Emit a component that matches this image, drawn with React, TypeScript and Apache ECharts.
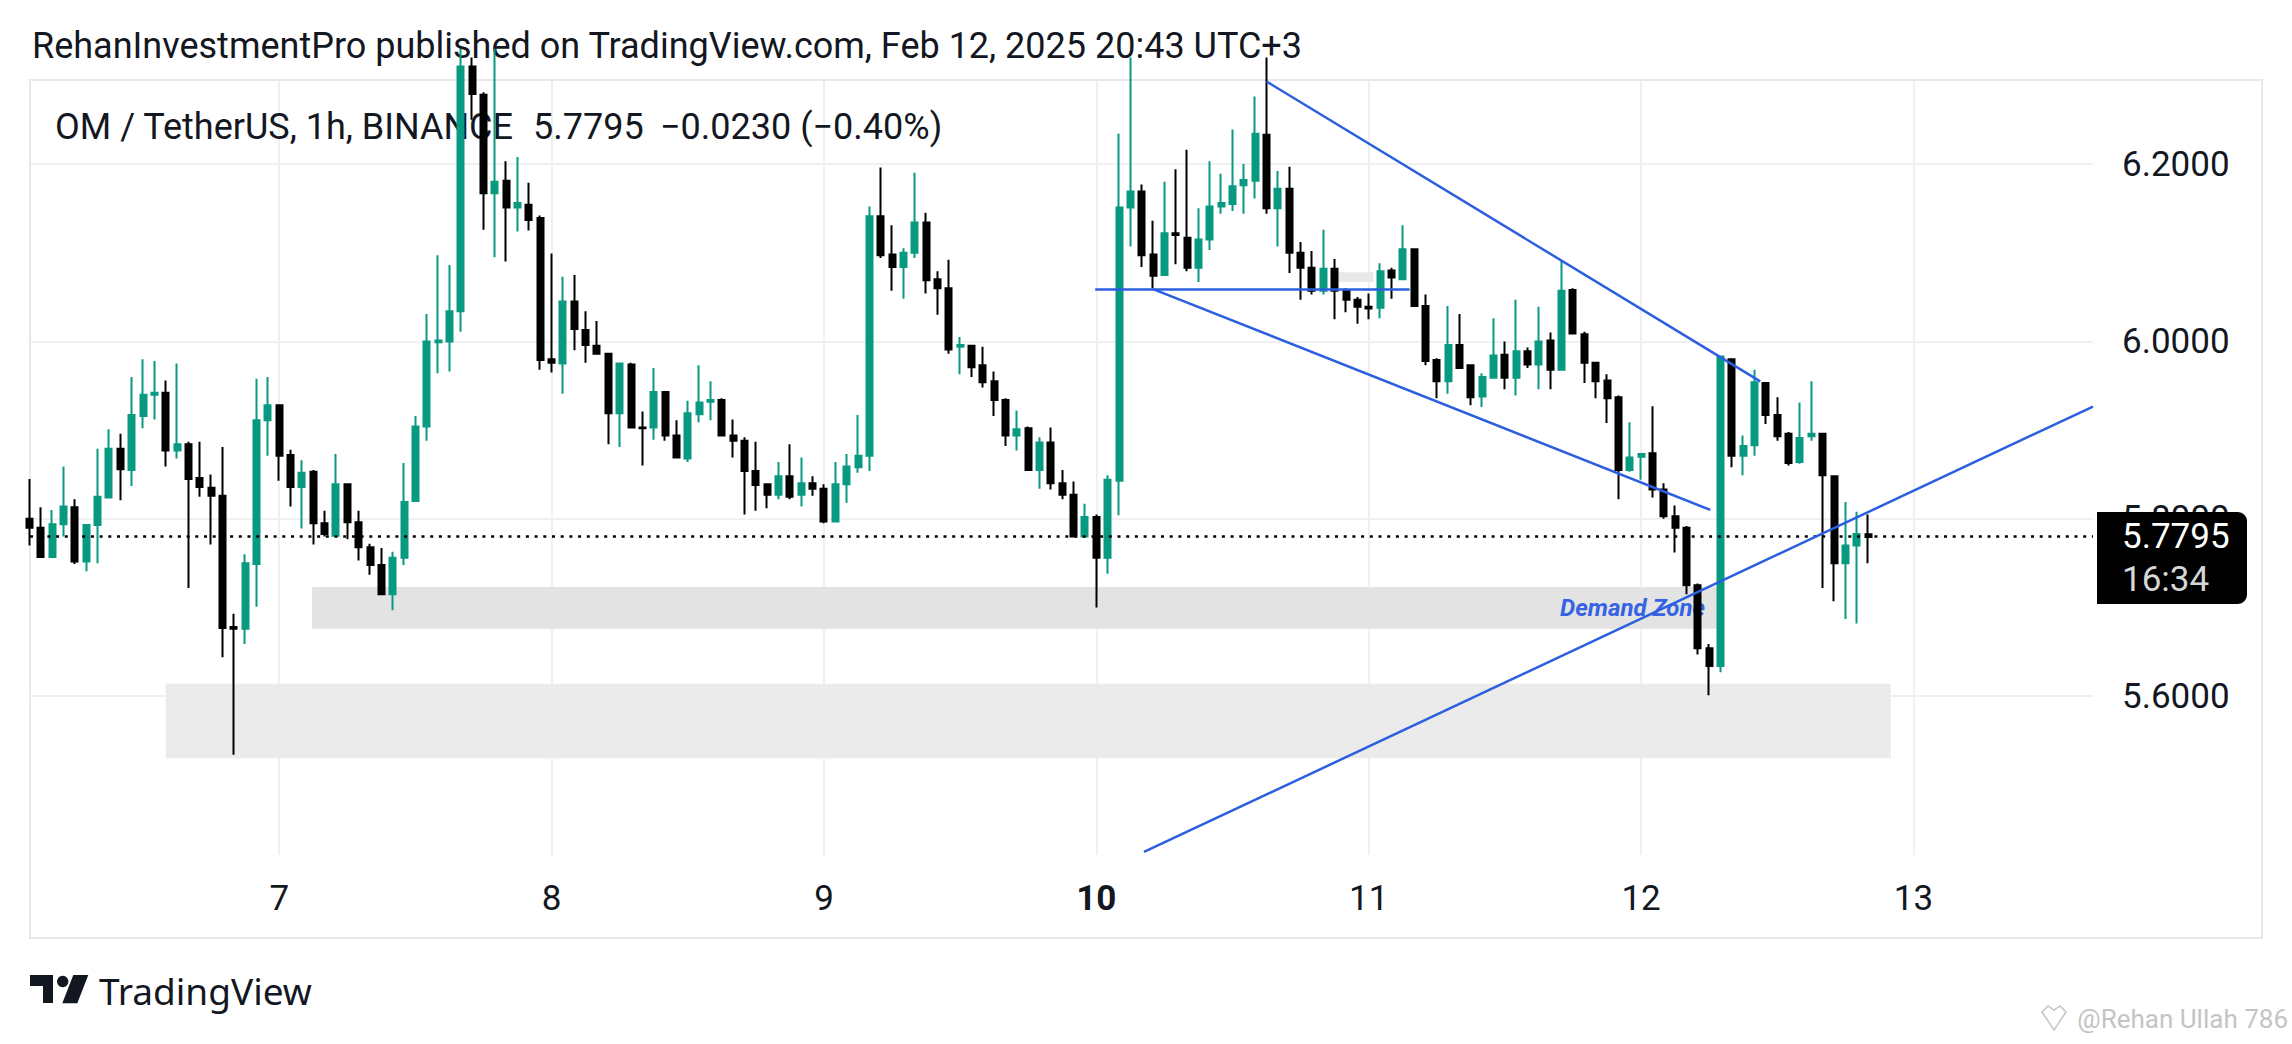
import { useEffect, useRef } from "react";
import * as echarts from "echarts";

// Hour index relative to Feb 7 00:00 (UTC+3). First candle = Feb 6 02:00.
const FIRST_HOUR = -22;

const opens = [
  5.800, 5.790, 5.757, 5.794, 5.813, 5.752, 5.793, 5.824, 5.879, 5.855, 5.916, 5.940, 5.942, 5.877, 5.884, 5.846, 5.835, 5.826, 5.678, 5.676, 5.749, 5.911,
  5.928, 5.872, 5.836, 5.853, 5.795, 5.781, 5.839, 5.796, 5.768, 5.748, 5.715, 5.756, 5.820, 5.904, 5.999, 6.000, 6.034, 6.310, 6.278, 6.167, 6.181, 6.151, 6.154, 6.139,
  5.980, 5.975, 6.045, 6.013, 5.995, 5.986, 5.919, 5.974, 5.903, 5.903, 5.943, 5.894, 5.868, 5.918, 5.932, 5.934, 5.894, 5.888, 5.854, 5.839, 5.827, 5.848, 5.827, 5.840,
  5.834, 5.797, 5.839, 5.858, 5.871, 6.141, 6.098, 6.084, 6.100, 6.134, 6.070, 6.060, 5.994, 5.995, 5.973, 5.955, 5.934, 5.894, 5.902, 5.855, 5.886, 5.840, 5.827, 5.780,
  5.802, 5.756, 5.843, 6.151, 6.169, 6.098, 6.075, 6.122, 6.117, 6.083, 6.115, 6.152, 6.155, 6.176, 6.181, 6.233, 6.150, 6.172, 6.100, 6.083, 6.057, 6.082, 6.057, 6.047,
  6.039, 6.038, 6.080, 6.070, 6.104, 6.040, 5.979, 5.955, 5.996, 5.973, 5.938, 5.959, 5.985, 5.959, 5.989, 5.974, 6.001, 5.968, 6.058, 6.008, 5.976, 5.956, 5.937, 5.855,
  5.870, 5.874, 5.833, 5.803, 5.790, 5.725, 5.654, 5.634, 5.980, 5.871, 5.883, 5.953, 5.917, 5.896, 5.864, 5.893, 5.896, 5.848, 5.750, 5.770, 5.7825,
];
const highs = [
  5.845, 5.813, 5.810, 5.859, 5.822, 5.794, 5.879, 5.901, 5.896, 5.960, 5.980, 5.978, 5.956, 5.975, 5.887, 5.887, 5.850, 5.881, 5.693, 5.760, 5.958, 5.960,
  5.929, 5.878, 5.866, 5.855, 5.809, 5.873, 5.840, 5.809, 5.772, 5.767, 5.763, 5.863, 5.916, 6.031, 6.097, 6.086, 6.330, 6.320, 6.281, 6.330, 6.203, 6.208, 6.179, 6.142,
  6.099, 6.073, 6.075, 6.034, 6.023, 5.987, 5.976, 5.976, 5.921, 5.970, 5.944, 5.911, 5.933, 5.973, 5.955, 5.936, 5.912, 5.892, 5.887, 5.840, 5.864, 5.884, 5.869, 5.848,
  5.839, 5.864, 5.873, 5.917, 6.152, 6.196, 6.131, 6.105, 6.190, 6.145, 6.079, 6.092, 6.005, 5.996, 5.994, 5.966, 5.936, 5.922, 5.904, 5.892, 5.903, 5.855, 5.842, 5.817,
  5.805, 5.849, 6.234, 6.320, 6.177, 6.136, 6.180, 6.194, 6.216, 6.150, 6.203, 6.189, 6.239, 6.200, 6.276, 6.320, 6.192, 6.197, 6.112, 6.102, 6.126, 6.093, 6.060, 6.050,
  6.054, 6.088, 6.083, 6.131, 6.105, 6.053, 5.981, 6.040, 6.031, 5.974, 5.964, 6.026, 6.000, 6.047, 5.993, 6.039, 6.010, 6.092, 6.060, 6.011, 5.977, 5.963, 5.939, 5.909,
  5.874, 5.927, 5.840, 5.815, 5.792, 5.727, 5.659, 5.984, 5.981, 5.894, 5.968, 5.954, 5.937, 5.898, 5.931, 5.955, 5.897, 5.849, 5.819, 5.808, 5.805,
];
const lows = [
  5.770, 5.756, 5.756, 5.780, 5.749, 5.741, 5.750, 5.823, 5.821, 5.837, 5.902, 5.912, 5.859, 5.868, 5.722, 5.825, 5.771, 5.644, 5.534, 5.659, 5.701, 5.871,
  5.843, 5.814, 5.789, 5.771, 5.780, 5.781, 5.777, 5.753, 5.737, 5.714, 5.697, 5.748, 5.819, 5.888, 5.964, 5.966, 6.011, 6.250, 6.126, 6.095, 6.090, 6.124, 6.125, 5.968,
  5.965, 5.941, 5.990, 5.976, 5.985, 5.884, 5.881, 5.902, 5.860, 5.889, 5.888, 5.868, 5.864, 5.909, 5.911, 5.893, 5.869, 5.805, 5.809, 5.812, 5.822, 5.822, 5.814, 5.826,
  5.795, 5.796, 5.818, 5.852, 5.854, 6.094, 6.057, 6.048, 6.094, 6.054, 6.030, 5.986, 5.963, 5.960, 5.948, 5.916, 5.882, 5.877, 5.854, 5.834, 5.833, 5.822, 5.779, 5.779,
  5.700, 5.738, 5.804, 6.107, 6.084, 6.060, 6.074, 6.087, 6.079, 6.067, 6.103, 6.144, 6.147, 6.144, 6.161, 6.144, 6.107, 6.077, 6.047, 6.053, 6.053, 6.025, 6.033, 6.020,
  6.025, 6.026, 6.048, 6.069, 6.039, 5.973, 5.936, 5.941, 5.969, 5.928, 5.926, 5.958, 5.946, 5.939, 5.970, 5.946, 5.946, 5.967, 6.008, 5.953, 5.936, 5.908, 5.822, 5.853,
  5.844, 5.824, 5.800, 5.762, 5.715, 5.647, 5.601, 5.627, 5.858, 5.849, 5.871, 5.907, 5.888, 5.860, 5.862, 5.888, 5.722, 5.707, 5.687, 5.682, 5.750,
];
const closes = [
  5.790, 5.757, 5.794, 5.814, 5.752, 5.793, 5.825, 5.879, 5.856, 5.917, 5.940, 5.942, 5.877, 5.884, 5.845, 5.836, 5.826, 5.677, 5.676, 5.750, 5.911, 5.928,
  5.871, 5.836, 5.852, 5.795, 5.783, 5.839, 5.796, 5.768, 5.748, 5.715, 5.756, 5.819, 5.904, 6.000, 6.001, 6.034, 6.310, 6.279, 6.167, 6.180, 6.151, 6.156, 6.137, 5.979,
  5.976, 6.045, 6.014, 5.996, 5.986, 5.919, 5.975, 5.903, 5.902, 5.943, 5.894, 5.869, 5.919, 5.931, 5.934, 5.894, 5.888, 5.854, 5.838, 5.827, 5.848, 5.825, 5.840, 5.834,
  5.797, 5.839, 5.859, 5.871, 6.141, 6.097, 6.084, 6.100, 6.134, 6.069, 6.060, 5.991, 5.996, 5.971, 5.954, 5.934, 5.894, 5.901, 5.855, 5.886, 5.840, 5.827, 5.780, 5.802,
  5.756, 5.844, 6.151, 6.169, 6.097, 6.074, 6.122, 6.120, 6.083, 6.115, 6.152, 6.156, 6.175, 6.182, 6.234, 6.150, 6.172, 6.100, 6.083, 6.057, 6.082, 6.057, 6.047, 6.039,
  6.037, 6.079, 6.072, 6.104, 6.040, 5.978, 5.955, 5.996, 5.970, 5.937, 5.960, 5.984, 5.959, 5.989, 5.974, 6.000, 5.968, 6.057, 6.009, 5.976, 5.955, 5.936, 5.855, 5.869,
  5.873, 5.833, 5.803, 5.790, 5.725, 5.654, 5.634, 5.983, 5.871, 5.882, 5.954, 5.917, 5.893, 5.863, 5.891, 5.896, 5.849, 5.750, 5.770, 5.783, 5.7795,
];

const dayTicks = [0, 24, 48, 72, 96, 120, 144];
const dayLabels = ["7", "8", "9", "10", "11", "12", "13"];
const boldDay = "10";
const priceTicks = [5.6, 5.8, 6.0, 6.2];
const lastPrice = 5.7795;
const countdown = "16:34";

// Drawings (in hour index / price coordinates)
const zones = [
  { from: [2.9, 5.723], to: [126.7, 5.676], fill: "#e3e3e3", label: "Demand Zone" },
  { from: [-10.0, 5.614], to: [142.0, 5.530], fill: "#ebebeb", label: "" },
  { from: [93.3, 6.078], to: [96.4, 6.067], fill: "#e8e8e8", label: "" },
];
const trendLines = [
  { from: [71.9, 6.059], to: [99.6, 6.059] },
  { from: [77.0, 6.059], to: [126.1, 5.81] },
  { from: [87.0, 6.293], to: [130.5, 5.955] },
  { from: [76.2, 5.4244], to: [159.82, 5.9266] },
];

const X_MIN = -21.96;
const X_MAX = 159.82;
const Y_MIN = 5.421;
const Y_MAX = 6.2947;

const FONT = "Roboto";
const TEXT = "#131722";
const UP = "#089981";
const DOWN = "#000000";
const BLUE = "#2c5fe0";

export default function App() {
  const ref = useRef<HTMLDivElement>(null);

  useEffect(() => {
    document.body.style.margin = "0";
    document.body.style.overflow = "hidden";
    const chart = echarts.init(ref.current!, undefined, { renderer: "svg" });

    const candleData = opens.map((o, i) => [FIRST_HOUR + i, o, closes[i], lows[i], highs[i]]);

    const option: any = {
      animation: false,
      backgroundColor: "#ffffff",
      textStyle: { fontFamily: FONT },
      grid: { left: 30, right: 199, top: 80, bottom: 189, containLabel: false },
      xAxis: {
        type: "value",
        min: X_MIN,
        max: X_MAX,
        axisLine: { show: false },
        axisTick: { show: false, customValues: dayTicks },
        splitLine: { show: true, lineStyle: { color: "#f0f0f0", width: 2 } },
        axisLabel: {
          customValues: dayTicks,
          margin: 26,
          fontSize: 35,
          fontFamily: FONT,
          color: TEXT,
          formatter: (v: number) => {
            const idx = dayTicks.indexOf(Math.round(v));
            const lab = idx >= 0 ? dayLabels[idx] : "";
            return lab === boldDay ? `{b|${lab}}` : lab;
          },
          rich: { b: { fontSize: 35, fontWeight: "bold", fontFamily: FONT, color: TEXT } },
        },
      },
      yAxis: {
        type: "value",
        position: "right",
        min: Y_MIN,
        max: Y_MAX,
        scale: true,
        axisLine: { show: false },
        axisTick: { show: false, customValues: priceTicks },
        splitLine: { show: true, lineStyle: { color: "#f0f0f0", width: 2 } },
        axisLabel: {
          customValues: priceTicks,
          margin: 29,
          fontSize: 35,
          fontFamily: FONT,
          color: TEXT,
          formatter: (v: number) => v.toFixed(4),
        },
      },
      series: [
        {
          type: "candlestick",
          data: candleData,
          dimensions: ["x", "open", "close", "lowest", "highest"],
          encode: { x: 0, y: [1, 2, 3, 4] },
          barWidth: 6.5,
          clip: true,
          z: 2,
          itemStyle: {
            color: UP,
            color0: DOWN,
            borderColor: UP,
            borderColor0: DOWN,
            borderWidth: 2,
          },
          markArea: {
            silent: true,
            z: 1,
            data: zones.map((zn) => [
              {
                coord: zn.from,
                itemStyle: { color: zn.fill },
                label: zn.label
                  ? {
                      show: true,
                      formatter: zn.label,
                      position: "insideRight",
                      distance: 12,
                      color: "#3563e3",
                      fontSize: 24,
                      fontStyle: "italic",
                      fontWeight: "bold",
                      fontFamily: FONT,
                    }
                  : { show: false },
              },
              { coord: zn.to },
            ]),
          },
          markLine: {
            silent: true,
            symbol: ["none", "none"],
            z: 5,
            label: { show: false },
            data: [
              {
                yAxis: lastPrice,
                lineStyle: { color: "#000000", width: 2.5, type: [3, 5.7] },
              },
              ...trendLines.map((t) => [
                { coord: t.from, lineStyle: { color: BLUE, width: 2.5, type: "solid" } },
                { coord: t.to },
              ]),
            ],
          },
        },
      ],
    };
    chart.setOption(option);

    const py = chart.convertToPixel({ yAxisIndex: 0 }, lastPrice) as number;

    const txt = (id: string, text: string, x: number, y: number, size: number, fill: string, extra: any = {}) => ({
      type: "text",
      id,
      z: extra.z ?? 0,
      style: {
        text,
        x,
        y,
        fontSize: size,
        fontFamily: extra.family ?? FONT,
        fontWeight: extra.weight ?? "normal",
        fill,
        align: extra.align ?? "left",
        textAlign: extra.align ?? "left",
        verticalAlign: "middle",
        textVerticalAlign: "middle",
      },
    });

    chart.setOption({
      graphic: [
        {
          type: "rect",
          id: "frame",
          z: 0,
          shape: { x: 30, y: 80, width: 2232, height: 858 },
          style: { fill: "none", stroke: "#e8e8e8", lineWidth: 2 },
        },
        txt("title", "RehanInvestmentPro published on TradingView.com, Feb 12, 2025 20:43 UTC+3", 32, 46, 36, TEXT),
        txt("leg1", "OM / TetherUS, 1h, BINANCE", 55, 127, 36, TEXT),
        txt("leg2", "5.7795", 533, 127, 36, TEXT),
        txt("leg3", "\u22120.0230 (\u22120.40%)", 660, 127, 36, TEXT),
        // TradingView logo
        { type: "rect", id: "lg1", shape: { x: 30, y: 975, width: 23, height: 11 }, style: { fill: TEXT } },
        { type: "rect", id: "lg2", shape: { x: 43, y: 975, width: 10, height: 28 }, style: { fill: TEXT } },
        { type: "circle", id: "lg3", shape: { cx: 62.7, cy: 981.5, r: 5.7 }, style: { fill: TEXT } },
        {
          type: "polygon",
          id: "lg4",
          shape: { points: [[73.3, 975], [88.3, 975], [77.3, 1003.3], [62.3, 1003.3]] },
          style: { fill: TEXT },
        },
        txt("logoText", "TradingView", 99, 990, 37, TEXT, { family: "Noto Sans" }),
        // watermark
        txt("wm", "@Rehan Ullah 786", 2288, 1019, 26, "#c4c4c4", { align: "right" }),
        {
          type: "polygon",
          id: "wmIcon",
          shape: { points: [[2042, 1012], [2048, 1006], [2054, 1010], [2060, 1006], [2066, 1012], [2054, 1030]] },
          style: { fill: "none", stroke: "#c4c4c4", lineWidth: 1.5 },
        },
        // current price box
        {
          type: "rect",
          id: "pbox",
          z: 100,
          shape: { x: 2097, y: py - 25, width: 150, height: 92, r: [0, 9, 9, 0] },
          style: { fill: "#000000" },
        },
        txt("pboxPrice", lastPrice.toFixed(4), 2122, py, 35, "#ffffff", { z: 101 }),
        txt("pboxTime", countdown, 2122, py + 43, 35, "#d6d6d6", { z: 101 }),
      ],
    });

    return () => chart.dispose();
  }, []);

  return <div ref={ref} style={{ width: 2292, height: 1044 }} />;
}
